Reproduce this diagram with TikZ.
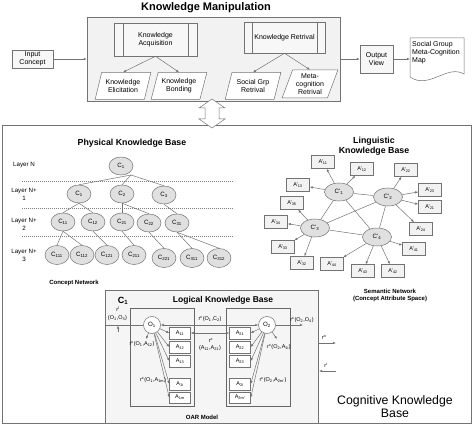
\documentclass[tikz,border=0pt]{standalone}
\usepackage{fontspec}
\setmainfont{Liberation Sans}
\usetikzlibrary{shapes.geometric,arrows.meta,calc}
\tikzset{
 gl/.style={draw=black!55, line width=0.5pt},
 arr/.style={gl, -{Latex[length=3pt,width=2.4pt]}},
 arrtwo/.style={gl, {Latex[length=3pt,width=2.4pt]}-{Latex[length=3pt,width=2.4pt]}},
 ftop/.style={font=\fontsize{7}{8}\selectfont},
 fsm/.style={font=\fontsize{6.2}{7.4}\selectfont},
 ftiny/.style={font=\fontsize{5.5}{6.5}\selectfont},
 fbtitle/.style={font=\bfseries\fontsize{8.8}{9.8}\selectfont},
 procbox/.style={gl, fill=black!3, rectangle, inner sep=1pt, align=center, ftop},
 para/.style={gl, fill=white, trapezium, trapezium left angle=68, trapezium right angle=112, trapezium stretches=true, minimum width=56, minimum height=27, inner sep=0pt, align=center, ftop},
 pcell/.style={gl, fill=black!12, ellipse, minimum width=24, minimum height=18, inner sep=0pt, fsm},
 pcellw/.style={pcell, minimum width=24, minimum height=19},
 lcell/.style={gl, fill=black!12, ellipse, minimum width=29, minimum height=18, inner sep=0pt, fsm},
 abox/.style={gl, fill=black!5, rectangle, minimum width=23, minimum height=13, inner sep=0pt, ftiny},
 obox/.style={gl, fill=white, rectangle, minimum width=21, minimum height=11.5, inner sep=0pt, ftiny},
 obj/.style={gl, fill=white, circle, minimum size=17, inner sep=0pt, fsm},
 lab/.style={ftiny, inner sep=0.5pt},
 dotl/.style={draw=black!50, line width=0.5pt, dash pattern=on 1pt off 1pt},
}
\begin{document}
\begin{tikzpicture}[x=1pt,y=-1pt]
\useasboundingbox (0,0) rectangle (474,425);
% ---------------- Knowledge manipulation ----------------
\node[font=\bfseries\fontsize{11}{13}\selectfont] (kmt) at (206,8) {Knowledge Manipulation};
\node[gl, fill=black!5, minimum width=253, minimum height=84, inner sep=0] (km) at (213.5,59) {};
\node[procbox, minimum width=83, minimum height=33] (ka) at (155.5,39.5) {Knowledge\\Acquisition};
\draw[gl] ([xshift=9]ka.north west) -- ([xshift=9]ka.south west);
\draw[gl] ([xshift=-9]ka.north east) -- ([xshift=-9]ka.south east);
\node[procbox, minimum width=81, minimum height=31] (kr) at (284.5,37.5) {Knowledge Retrival};
\draw[gl] ([xshift=8]kr.north west) -- ([xshift=8]kr.south west);
\draw[gl] ([xshift=-8]kr.north east) -- ([xshift=-8]kr.south east);
\node[para] (ke) at (123,86) {Knowledge\\Elicitation};
\node[para] (kb) at (179,86) {Knowledge\\Bonding};
\node[para] (sg) at (253,86) {Social Grp\\Retrival};
\node[para, minimum height=28] (mc) at (310,84) {Meta-\\cognition\\Retrival};
\draw[arr] (ka.south) -- (ke.north);
\draw[arr] (ka.south) -- (kb.north);
\draw[arr] (kr.south) -- (sg.north);
\draw[arr] (kr.south) -- (mc.north);
\node[procbox, minimum width=41, minimum height=18] (ic) at (32.5,59) {Input\\Concept};
\draw[arr] (ic) -- (km);
\node[procbox, minimum width=33, minimum height=28] (ov) at (376.5,59) {Output\\View};
\draw[arr] (km) -- (ov);
\draw[gl, fill=white] (410,38) -- (464,38) -- (464,74) .. controls (447,64) and (429,90) .. (410,77) -- cycle;
\node[ftop, align=left, anchor=north west, inner sep=0pt] (doc) at (412,41) {Social Group\\Meta-Cognition\\Map};
\coordinate (docw) at (410,59);
\draw[arr] (ov) -- (docw);
% ---------------- Cognitive KB frame ----------------
\draw[gl] (2,125) rectangle (471,423.5);
\draw[gl, fill=white] (212,99) -- (225,108) -- (219,108) -- (219,119) -- (225,119) -- (212,128) -- (199,119) -- (205,119) -- (205,108) -- (199,108) -- cycle;
% ---------------- Physical KB ----------------
\node[fbtitle] (pkt) at (132,143) {Physical Knowledge Base};
\node[fsm, align=center] (ln) at (24,165) {Layer N};
\node[fsm, align=center] (l1) at (24,194.5) {Layer N+\\1};
\node[fsm, align=center] (l2) at (24,224.5) {Layer N+\\2};
\node[fsm, align=center] (l3) at (24,255.5) {Layer N+\\3};
\coordinate (d1a) at (22,181); \coordinate (d1b) at (233,181);
\coordinate (d2a) at (22,208); \coordinate (d2b) at (233,208);
\coordinate (d3a) at (22,236); \coordinate (d3b) at (233,236);
\draw[dotl] (d1a) -- (d1b);
\draw[dotl] (d2a) -- (d2b);
\draw[dotl] (d3a) -- (d3b);
\node[pcell] (c0) at (121,166) {C\textsubscript{1}};
\node[pcell] (c1) at (79,194) {C\textsubscript{1}};
\node[pcell] (c2) at (122,194) {C\textsubscript{2}};
\node[pcell] (c3) at (164,195) {C\textsubscript{3}};
\node[pcell] (c11) at (63,222) {C\textsubscript{11}};
\node[pcell] (c12) at (93,222) {C\textsubscript{12}};
\node[pcell] (c21) at (122,222) {C\textsubscript{21}};
\node[pcell] (c22) at (149,223) {C\textsubscript{22}};
\node[pcell] (c31) at (177,223) {C\textsubscript{31}};
\node[pcellw] (c111) at (57,255) {C\textsubscript{111}};
\node[pcellw] (c112) at (82,255) {C\textsubscript{112}};
\node[pcellw] (c121) at (107,255) {C\textsubscript{121}};
\node[pcellw] (c211) at (134,255) {C\textsubscript{211}};
\node[pcellw] (c221) at (164,258) {C\textsubscript{221}};
\node[pcellw] (c311) at (192,258) {C\textsubscript{311}};
\node[pcellw] (c312) at (219,258) {C\textsubscript{312}};
\coordinate (j0) at (131,175);
\draw[gl] (j0) -- (c1.north);
\draw[gl] (j0) -- (c2.north);
\draw[gl] (j0) -- (c3.north);
\draw[gl] (c1.south) -- (c11.north);
\draw[gl] (c1.south) -- (c12.north);
\draw[gl] (c2.south) -- (c21.north);
\draw[gl] (c2.south) -- (c22.north);
\draw[gl] (c3.south) -- (c31.north);
\draw[gl] (c11.south) -- (c111.north);
\draw[gl] (c11.south) -- (c112.north);
\draw[gl] (c12.south) -- (c121.north);
\draw[gl] (c21.south) -- (c211.north);
\draw[gl] (c22.south) -- (c221.north);
\draw[gl] (c31.south) -- (c311.north);
\draw[gl] (c31.south) -- (c312.north);
\node[font=\bfseries\fontsize{6}{7}\selectfont] (cnet) at (74,283) {Concept Network};
% ---------------- Linguistic KB ----------------
\node[fbtitle, align=center] (lkt) at (374,146) {Linguistic\\Knowledge Base};
\node[lcell] (lc1) at (339,192) {C’\textsubscript{1}};
\node[lcell] (lc2) at (388,197) {C’\textsubscript{2}};
\node[lcell] (lc3) at (315,228) {C’\textsubscript{3}};
\node[lcell] (lc4) at (377,237) {C’\textsubscript{4}};
\node[abox] (a11) at (323,162) {A’\textsubscript{11}};
\node[abox] (a12) at (362,169) {A’\textsubscript{12}};
\node[abox] (a13) at (298,185) {A’\textsubscript{13}};
\node[abox] (a22) at (406,170) {A’\textsubscript{22}};
\node[abox] (a23) at (430,190) {A’\textsubscript{23}};
\node[abox] (a21) at (430,207) {A’\textsubscript{21}};
\node[abox] (a24) at (421,229) {A’\textsubscript{24}};
\node[abox] (a35) at (292,203) {A’\textsubscript{35}};
\node[abox] (a34) at (276,222) {A’\textsubscript{34}};
\node[abox] (a33) at (283,247) {A’\textsubscript{33}};
\node[abox] (a32) at (302,263) {A’\textsubscript{32}};
\node[abox] (a41) at (414,249) {A’\textsubscript{41}};
\node[abox] (a44) at (332,264) {A’\textsubscript{44}};
\node[abox] (a43) at (363,271) {A’\textsubscript{43}};
\node[abox] (a42) at (393,271) {A’\textsubscript{42}};
\draw[gl] (lc1) -- (lc2);
\draw[gl] (lc1) -- (lc3);
\draw[gl] (lc1) -- (lc4);
\draw[gl] (lc2) -- (lc3);
\draw[gl] (lc2) -- (lc4);
\draw[gl] (lc3) -- (lc4);
\draw[arr] (lc1) -- (a11);
\draw[arr] (lc1) -- (a12);
\draw[arr] (lc1) -- (a13);
\draw[arr] (lc2) -- (a22);
\draw[arr] (lc2) -- (a23);
\draw[arr] (lc2) -- (a21);
\draw[arr] (lc2) -- (a24);
\draw[arr] (lc3) -- (a35);
\draw[arr] (lc3) -- (a34);
\draw[arr] (lc3) -- (a33);
\draw[arr] (lc3) -- (a32);
\draw[arr] (lc4) -- (a41);
\draw[arr] (lc4) -- (a44);
\draw[arr] (lc4) -- (a43);
\draw[arr] (lc4) -- (a42);
\node[font=\bfseries\fontsize{6}{7}\selectfont, align=center] (snet) at (390,295.5) {Semantic Network\\(Concept Attribute Space)};
% ---------------- Logical KB ----------------
\node[gl, fill=black!4, minimum width=213, minimum height=133, inner sep=0] (lgb) at (211.5,356.5) {};
\node[font=\bfseries\fontsize{9}{10}\selectfont] (lgc) at (123,301) {C\textsubscript{1}};
\node[font=\bfseries\fontsize{8.5}{10}\selectfont] (lgt) at (223,300) {Logical Knowledge Base};
\node[draw=black!60, line width=0.5pt, minimum width=64, minimum height=98, inner sep=0] (lib) at (162,357) {};
\node[draw=black!60, line width=0.5pt, minimum width=64, minimum height=98, inner sep=0] (rib) at (258,357) {};
\node[obj] (o1) at (152,325) {O\textsubscript{1}};
\node[obj] (o2) at (267,325) {O\textsubscript{2}};
\node[obox] (b11) at (180,333) {A\textsubscript{11}};
\node[obox] (b12) at (180,347) {A\textsubscript{12}};
\node[obox] (b13) at (180,361) {A\textsubscript{13}};
\node[obox] (b1i) at (180,384) {A\textsubscript{1i}};
\node[obox] (b1m) at (180,397.5) {A\textsubscript{1m}};
\node[obox] (b21) at (240,333) {A\textsubscript{21}};
\node[obox] (b22) at (240,347) {A\textsubscript{22}};
\node[obox] (b23) at (240,361) {A\textsubscript{23}};
\node[obox] (b2i) at (240,384) {A\textsubscript{2i}};
\node[obox] (b2m) at (240,397.5) {A\textsubscript{2m’}};
\draw[arrtwo] (o1) -- (o2);
\draw[arrtwo] (b11) -- (b21);
\draw[arr] (o1) -- (b11.west);
\draw[arr] (o1) -- (b12.west);
\draw[arr] (o1) -- (b13.west);
\draw[arr] (o1) -- (b1i.west);
\draw[arr] (o1) -- (b1m.west);
\draw[arr] (o2) -- (b21.east);
\draw[arr] (o2) -- (b22.east);
\draw[arr] (o2) -- (b23.east);
\draw[arr] (o2) -- (b2i.east);
\draw[arr] (o2) -- (b2m.east);
\coordinate (o1w) at (105,325);
\draw[gl] (o1) -- (o1w);
\coordinate (rla) at (118,332); \coordinate (rlb) at (118,325.5);
\draw[arr] (rla) -- (rlb);
\coordinate (o2e) at (303,325);
\draw[arr] (o2) -- (o2e);
\coordinate (o1s) at (146,339);
\draw[arr] (o1) -- (o1s);
\coordinate (o2s) at (277,339);
\draw[arr] (o2) -- (o2s);
\node[lab] (tl1) at (118,309) {r\textsuperscript{l}};
\node[lab] (tl2) at (117.5,318) {(O\textsubscript{1},O\textsubscript{3})};
\node[lab] (tc1) at (210,319) {r\textsuperscript{c}(O\textsubscript{1},C\textsubscript{2})};
\node[lab] (tc2) at (211,340) {r\textsuperscript{c}};
\node[lab] (tc3) at (210,348) {(A\textsubscript{11},A\textsubscript{21})};
\node[lab] (tc4) at (142,344) {r\textsuperscript{c}(O\textsubscript{1},A\textsubscript{12})};
\node[lab] (tc5) at (153,380) {r\textsuperscript{c}(O\textsubscript{1},A\textsubscript{1m})};
\node[lab] (tc6) at (302,320) {r\textsuperscript{c}(O\textsubscript{2},O\textsubscript{4})};
\node[lab] (tc7) at (279,347) {r\textsuperscript{c}(O\textsubscript{2},A\textsubscript{1i})};
\node[lab] (tc8) at (273,380) {r\textsuperscript{c}(O\textsubscript{2},A\textsubscript{2m’})};
\node[font=\bfseries\fontsize{6}{7}\selectfont] (oar) at (202,417) {OAR Model};
\coordinate (roa) at (318,343); \coordinate (rob) at (336,343);
\draw[arr] (roa) -- (rob);
\node[lab] (rot) at (324,337) {r\textsuperscript{o}};
\coordinate (ria) at (336,371); \coordinate (rib2) at (319,371);
\draw[arr] (ria) -- (rib2);
\node[lab] (rit) at (326,365) {r\textsuperscript{i}};
\node[font=\fontsize{12.3}{12.8}\selectfont, align=center] (ckb) at (395,407) {Cognitive Knowledge\\Base};
\end{tikzpicture}
\end{document}
